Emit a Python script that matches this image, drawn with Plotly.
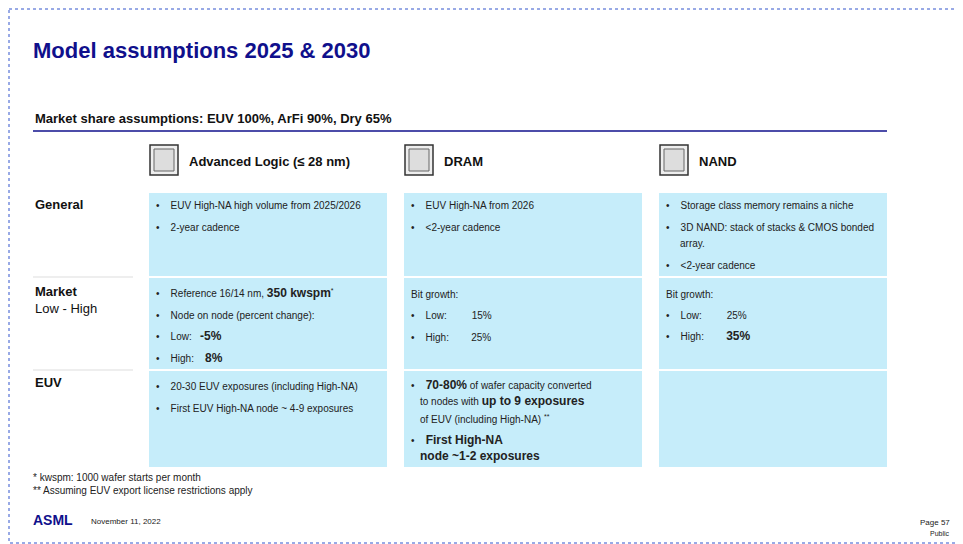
import plotly.graph_objects as go

W, H = 963, 544
OFF = 8  # page body margin in the browser
FONT = "Liberation Sans, Arial, sans-serif"
NAVY = "#10108c"
BOX = "#c6edfa"

title = "Model assumptions 2025 & 2030"
subtitle = "Market share assumptions: EUV 100%, ArFi 90%, Dry 65%"
segments = ["Advanced Logic (≤ 28 nm)", "DRAM", "NAND"]
row_labels = ["<b>General</b>", "<b>Market</b><br>Low - High", "<b>EUV</b>"]

# cell texts: (x offset, y, text) per column per row
cells = {
    (0, 0): [(0, 205, "•    EUV High-NA high volume from 2025/2026"),
             (0, 227, "•    2-year cadence")],
    (1, 0): [(0, 205, "•    EUV High-NA from 2026"),
             (0, 227, "•    <2-year cadence")],
    (2, 0): [(0, 205, "•    Storage class memory remains a niche"),
             (0, 227, "•    3D NAND: stack of stacks & CMOS bonded"),
             (14, 243, "array."),
             (0, 265, "•    <2-year cadence")],
    (0, 1): [(0, 293, "•    Reference 16/14 nm, <b><span style='font-size:12px'>350 kwspm</span></b><sup>*</sup>"),
             (0, 315, "•    Node on node (percent change):"),
             (0, 336, "•    Low:   <b><span style='font-size:12px'>-5%</span></b>"),
             (0, 358, "•    High:    <b><span style='font-size:12px'>8%</span></b>")],
    (1, 1): [(0, 294, "Bit growth:"),
             (0, 315, "•    Low:         15%"),
             (0, 337, "•    High:        25%")],
    (2, 1): [(0, 294, "Bit growth:"),
             (0, 315, "•    Low:         25%"),
             (0, 336, "•    High:        <b><span style='font-size:12px'>35%</span></b>")],
    (0, 2): [(0, 386, "•    20-30 EUV exposures (including High-NA)"),
             (0, 408, "•    First EUV High-NA node ~ 4-9 exposures")],
    (1, 2): [(0, 385, "•    <b><span style='font-size:12px'>70-80%</span></b> of wafer capacity converted"),
             (9, 401, "to nodes with <b><span style='font-size:12px'>up to 9 exposures</span></b>"),
             (9, 419, "of EUV (including High-NA) <sup>**</sup>"),
             (0, 440, "•    <b><span style='font-size:12px'>First High-NA</span></b>"),
             (9, 456, "<b><span style='font-size:12px'>node ~1-2 exposures</span></b>")],
}
footnotes = ["* kwspm: 1000 wafer starts per month",
             "** Assuming EUV export license restrictions apply"]

col_x = [(149, 387), (404, 642), (659, 887)]
row_y = [(193, 276), (278, 369), (371, 467)]

fig = go.Figure()
shapes, ann = [], []

def text(x, y, s, size=10, color="#222", bold=False, anchor="left", yanchor="middle"):
    ann.append(dict(x=x, y=y, xref="x", yref="y", text=f"<b>{s}</b>" if bold else s,
                    showarrow=False, xanchor=anchor, yanchor=yanchor, align="left",
                    font=dict(family=FONT, size=size, color=color)))

shapes.append(dict(type="rect", x0=OFF + 1, y0=OFF + 1, x1=W + OFF - 3, y1=H - 1,
                   line=dict(color="#3355cc", width=1, dash="dot")))
text(31, 50, title, size=22, color=NAVY, bold=True)
text(33, 118, subtitle, size=13, color="#111", bold=True)
shapes.append(dict(type="line", x0=33, x1=887, y0=131, y1=131, line=dict(color=NAVY, width=1.5)))

for c, (x0, x1) in enumerate(col_x):
    for r, (y0, y1) in enumerate(row_y):
        shapes.append(dict(type="rect", x0=x0, x1=x1, y0=y0, y1=y1, fillcolor=BOX, line_width=0, layer="below"))
    # icon
    shapes.append(dict(type="rect", x0=x0 + 1, x1=x0 + 29, y0=145, y1=175,
                       line=dict(color="#333", width=1.5), fillcolor="#eee"))
    shapes.append(dict(type="rect", x0=x0 + 5, x1=x0 + 25, y0=149, y1=171,
                       line=dict(color="#666", width=1), fillcolor="#ddd"))
    text(x0 + 38, 161, segments[c], size=13, color="#111", bold=True)

for r, (y0, y1) in enumerate(row_y):
    text(33, y0 + 11 if r != 1 else y0 + 22, row_labels[r], size=13, color="#111")
    if r > 0:
        shapes.append(dict(type="line", x0=33, x1=133, y0=y0 - 1, y1=y0 - 1, line=dict(color="#ddd", width=1)))

for (c, r), lines in cells.items():
    for dx, y, s in lines:
        text(col_x[c][0] + 5 + dx, y, s, size=10)

text(31, 477, footnotes[0], size=10)
text(31, 490, footnotes[1], size=10)
text(31, 520, "ASML", size=14, color=NAVY, bold=True)
text(89, 521, "November 11, 2022", size=8)
text(952, 522, "Page 57", size=8, anchor="right")
text(952, 533, "Public", size=7, anchor="right")

fig.update_layout(width=W, height=H, margin=dict(l=0, r=0, t=0, b=0),
                  plot_bgcolor="white", paper_bgcolor="white", shapes=shapes, annotations=ann,
                  xaxis=dict(range=[OFF, W + OFF], visible=False, fixedrange=True),
                  yaxis=dict(range=[H + OFF, OFF], visible=False, fixedrange=True),
                  showlegend=False)
fig.write_html("out.html", config={"displayModeBar": False})
